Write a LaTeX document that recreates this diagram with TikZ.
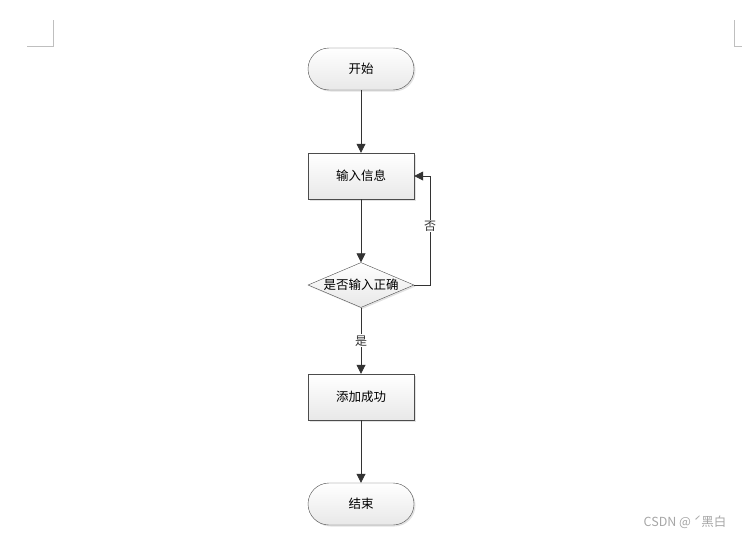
\documentclass[tikz,border=0pt]{standalone}
\usepackage{fontspec}
\newfontfamily\cjk{Noto Sans CJK SC}
\usetikzlibrary{shapes.geometric,arrows.meta,shadows}
\begin{document}
\begin{tikzpicture}[
        x=1pt, y=-1pt,
        box/.style={rectangle, draw=gray!60!black, top color=white, bottom color=gray!18, thin, minimum width=106pt, minimum height=46pt, font=\cjk\fontsize{12.5}{14}\selectfont, drop shadow={shadow xshift=1.5pt, shadow yshift=-1.5pt, fill=gray!45}},
        term/.style={box, rounded corners=21pt, minimum height=42pt},
        decide/.style={box, diamond, inner sep=0pt, minimum width=106pt, minimum height=45pt, aspect=2.36},
        lbl/.style={fill=white, inner sep=1pt, font=\cjk\fontsize{12}{14}\selectfont},
        arrow/.style={-{Triangle[width=9pt,length=9pt]}, thick, color=gray!40!black},
        cornermark/.style={draw=gray!50, thin}
    ]
        \useasboundingbox (0,0) rectangle (742,538);

        % Page corner marks
        \draw[cornermark] (27,46) -- (53,46) -- (53,20);
        \draw[cornermark] (742,46) -- (734,46) -- (734,20);

        % Flow nodes
        \node[term] (start) at (361, 69) {开始};
        \node[box] (input) at (361, 176) {输入信息};
        \node[decide] (check) at (361, 285) {\makebox[0pt]{是否输入正确}};
        \node[box] (done) at (361, 397) {添加成功};
        \node[term] (stop) at (361, 504) {结束};

        % Connections
        \draw[arrow] (start) -- (input);
        \draw[arrow] (input) -- (check);
        \draw[arrow] (check) -- node[lbl] {是} (done);
        \draw[arrow] (check.east) -- ++(16,0) |- node[lbl, pos=0.27] {否} (input.east);
        \draw[arrow] (done) -- (stop);

        % Watermark
        \node[font=\cjk\fontsize{12.5}{14}\selectfont, text=gray!70] (wm) at (685, 522) {CSDN @ ˊ黑白};
    \end{tikzpicture}
\end{document}
